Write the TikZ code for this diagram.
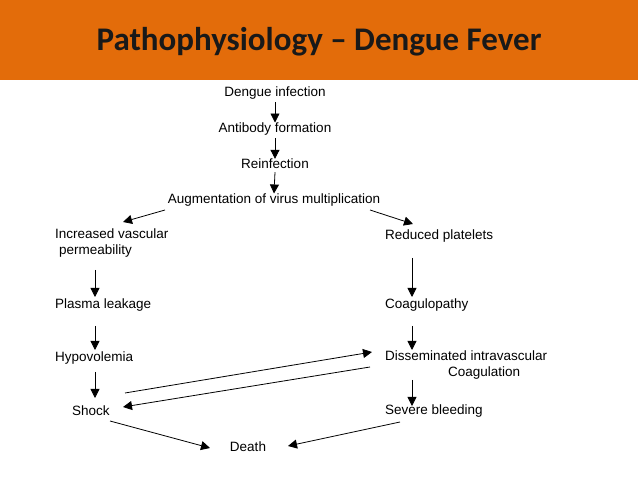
\documentclass[tikz,border=0pt]{standalone}
\usepackage{fontspec}
\setmainfont{Liberation Sans}
\newfontfamily\titlefont{Carlito}
\usetikzlibrary{arrows.meta}
\definecolor{band}{RGB}{227,108,10}
\begin{document}
\begin{tikzpicture}[x=1pt,y=-1pt,
  lbl/.style={inner sep=0pt,font=\fontsize{13.5}{16}\selectfont},
  arr/.style={-{Triangle[length=9pt,width=9pt]},line width=0.8pt}]
\useasboundingbox (0,0) rectangle (638,478);
\fill[band] (0,0) rectangle (638,80);
\node[inner sep=0pt,font=\titlefont\bfseries\fontsize{33}{38}\selectfont,text=black!90] (title) at (319,42) {Pathophysiology – Dengue Fever};
\node[lbl] (inf) at (275,93) {Dengue infection};
\node[lbl] (ab) at (275,129) {Antibody formation};
\node[lbl] (re) at (275,164) {Reinfection};
\node[lbl] (aug) at (274,200) {Augmentation of virus multiplication};
\node[lbl,anchor=north west,align=left] (ivp) at (55,229) {Increased vascular\\\hspace{4pt}permeability};
\node[lbl,anchor=west] (rp) at (385,236) {Reduced platelets};
\node[lbl,anchor=west] (pl) at (55,305) {Plasma leakage};
\node[lbl,anchor=west] (co) at (385,305) {Coagulopathy};
\node[lbl,anchor=west] (hy) at (55,358) {Hypovolemia};
\node[lbl,anchor=north west,align=center] (dic) at (385,351) {Disseminated intravascular\\\hspace{36pt}Coagulation};
\node[lbl,anchor=west] (sh) at (72,411) {Shock};
\node[lbl,anchor=west] (sb) at (385,411) {Severe bleeding};
\node[lbl] (de) at (248,447) {Death};
\draw[arr] (inf.south) ++(0,3) -- (ab.north);
\draw[arr] (ab.south) ++(0,3) -- (re.north);
\draw[arr] (re.south) ++(0,3) -- (aug.north);
\draw[arr] (165,210) -- (123,222);
\draw[arr] (370,210) -- (413,224);
\draw[arr] (95,270) -- (95,297);
\draw[arr] (95,326) -- (95,350);
\draw[arr] (95,372) -- (95,398);
\draw[arr] (412,258) -- (412,297);
\draw[arr] (412,326) -- (412,350);
\draw[arr] (412,380) -- (412,406);
\draw[arr] (125,393) -- (372,352);
\draw[arr] (370,367) -- (123,407);
\draw[arr] (110,421) -- (210,448);
\draw[arr] (400,422) -- (288,446);
\end{tikzpicture}
\end{document}
